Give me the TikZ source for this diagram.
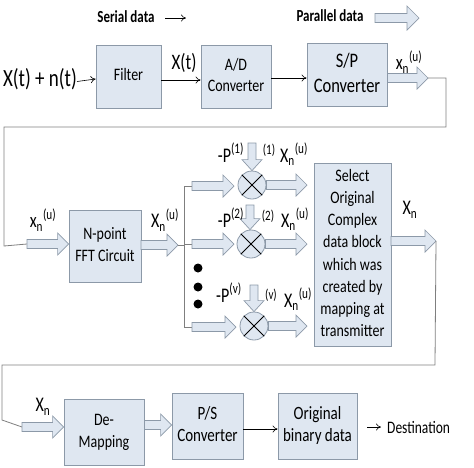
\documentclass[tikz,border=0pt]{standalone}
\usepackage{amsmath}
\usepackage{graphicx}
\usepackage{fontspec}
\setmainfont{Carlito}
\usetikzlibrary{calc,arrows.meta}
\definecolor{bfill}{HTML}{DFE7F1}
\definecolor{bdraw}{HTML}{8C99A8}
\definecolor{wgrey}{HTML}{7F7F7F}
\newcommand\vt[1]{\scalebox{1}[1.25]{\begin{tabular}{@{}c@{}}#1\end{tabular}}}
\newcommand\vl[1]{\scalebox{1}[1.3]{#1}}
\newcommand\Xnu{\vl{X$_{\text{n}}{}^{\text{(u)}}$}}
\newcommand\xnu{\vl{x$_{\text{n}}{}^{\text{(u)}}$}}
\newcommand\harr[3][11]{\draw[harrowsty] let \p1=(#2), \p2=(#3) in
  (\x1,\y1+4.5pt) -- (\x2-#1pt,\y1+4.5pt) -- (\x2-#1pt,\y1+#1pt) -- (\x2,\y1)
  -- (\x2-#1pt,\y1-#1pt) -- (\x2-#1pt,\y1-4.5pt) -- (\x1,\y1-4.5pt) -- cycle;}
\newcommand\varr[2]{\draw[harrowsty] let \p1=(#1), \p2=(#2) in
  (\x1-4pt,\y1) -- (\x1-4pt,\y2+11pt) -- (\x1-10pt,\y2+11pt) -- (\x1,\y2)
  -- (\x1+10pt,\y2+11pt) -- (\x1+4pt,\y2+11pt) -- (\x1+4pt,\y1) -- cycle;}
\tikzset{
  blk/.style={draw=bdraw, fill=bfill, line width=0.8pt, align=center, inner sep=0pt},
  harrowsty/.style={draw=bdraw, fill=bfill, line width=0.7pt, line join=miter},
  wire/.style={draw=wgrey, line width=0.8pt},
  arr/.style={-{To[length=5pt,width=7pt]}, line width=0.6pt},
  lbl/.style={inner sep=0pt, font=\fontsize{16}{18}\selectfont},
  slbl/.style={inner sep=0pt, font=\fontsize{11}{12}\selectfont},
  mult/.style={circle, draw=bdraw, fill=bfill, line width=0.8pt, minimum size=28pt, inner sep=0pt},
  dotb/.style={circle, fill=black, minimum size=9pt, inner sep=0pt},
}
\begin{document}
\begin{tikzpicture}[x=1pt,y=-1pt]
\useasboundingbox (0,0) rectangle (474,467);
% legend
\node[inner sep=0pt, font=\fontsize{13}{14}\selectfont\bfseries] (serial) at (126,17) {\vl{Serial data}};
\coordinate (sa1) at (165,18); \coordinate (sa2) at (186,18);
\draw[arr] (sa1) -- (sa2);
\node[inner sep=0pt, font=\fontsize{13}{14}\selectfont\bfseries] (parallel) at (330,16) {\vl{Parallel data}};
\coordinate (pa1) at (375,18); \coordinate (pa2) at (419,18);
\harr[12]{pa1}{pa2}
% top row
\node[lbl, anchor=east, font=\fontsize{19}{20}\selectfont] (input) at (77,79) {\vl{X(t) + n(t)}};
\node[blk, minimum width=65pt, minimum height=63pt, font=\fontsize{14}{17}\selectfont] (filter) at (128.5,76.5) {\vt{Filter}};
\node[blk, minimum width=70pt, minimum height=63pt, font=\fontsize{14}{17}\selectfont] (ad) at (236,76.5) {\vt{A/D\\Converter}};
\node[blk, minimum width=80pt, minimum height=63pt, font=\fontsize{16.5}{20}\selectfont] (sp) at (347,74.5) {\vt{S/P\\Converter}};
\draw[arr] ([yshift=-2.5pt]input.east) -- ([yshift=-2.5pt]filter.west);
\node[lbl, font=\fontsize{17}{18}\selectfont] (xt) at (184,63) {\vl{X(t)}};
\draw[arr] ([yshift=-3.5pt]filter.east) -- ([yshift=-3.5pt]ad.west);
\draw[arr] ([yshift=-1.5pt]ad.east) -- ([yshift=-3.5pt]sp.west);
\coordinate (sps) at ([yshift=-3.5pt]sp.east);
\coordinate (spt) at (428,78);
\harr{sps}{spt}
\node[lbl] (lsp) at (409,62) {\xnu};
\coordinate (f1) at (446,78); \coordinate (f2) at (446,127);
\coordinate (f3) at (4,127); \coordinate (f4) at (4,246);
\coordinate (fftin) at (27,244);
\draw[wire] (spt) -- (f1) -- (f2) -- (f3) -- (f4) -- (fftin);
% FFT row
\node[blk, minimum width=72pt, minimum height=72pt, font=\fontsize{14}{17.6}\selectfont] (fft) at (105,246) {\vt{N-point\\FFT Circuit}};
\harr{fftin}{fft.west |- fftin}
\node[lbl] (lfftin) at (43,220) {\xnu};
\coordinate (fo1) at (141,245); \coordinate (fo2) at (178,245);
\harr{fo1}{fo2}
\node[lbl] (lfftout) at (165,220) {\Xnu};
\coordinate (bt) at (184,186); \coordinate (bm) at (184,244); \coordinate (bb) at (184,327);
\coordinate (bc) at (184,245);
\draw[wire] (fo2) -- (bc);
\draw[wire] (bt) -- (bb);
\coordinate (a1s) at (192,186); \coordinate (a2s) at (192,244); \coordinate (a3s) at (192,327);
\draw[wire] (bt) -- (a1s); \draw[wire] (bm) -- (a2s); \draw[wire] (bb) -- (a3s);
\node[mult] (m1) at (252,185) {};
\node[mult] (m2) at (251,244) {};
\node[mult] (m3) at (254,326) {};
\foreach \m in {m1,m2,m3}{
  \draw[line width=0.9pt] (\m.north west) -- (\m.south east);
  \draw[line width=0.9pt] (\m.north east) -- (\m.south west);
}
\harr{a1s}{234,186}
\harr{a2s}{234,244}
\harr{a3s}{236,327}
% down arrows
\coordinate (d1) at (252,143); \varr{d1}{m1.north}
\coordinate (d2) at (250,205); \varr{d2}{m2.north}
\coordinate (d3) at (254,285); \varr{d3}{m3.north}
% labels multipliers
\node[lbl, anchor=base] (p1) at (231,162) {\vl{-P$^{\text{(1)}}$}};
\node[slbl] (q1) at (269,150) {\vl{(1)}};
\node[lbl, anchor=base] (x1) at (294,162) {\Xnu};
\node[lbl, anchor=base] (p2) at (231,227) {\vl{-P$^{\text{(2)}}$}};
\node[slbl] (q2) at (268,216) {\vl{(2)}};
\node[lbl, anchor=base] (x2) at (295,227) {\Xnu};
\node[lbl, anchor=base] (p3) at (229,302) {\vl{-P$^{\text{(v)}}$}};
\node[slbl] (q3) at (271,295) {\vl{(v)}};
\node[lbl, anchor=base] (x3) at (298,307) {\Xnu};
% dots
\node[dotb] (dt1) at (198,268) {};
\node[dotb] (dt2) at (198,287) {};
\node[dotb] (dt3) at (198,304) {};
% select box
\node[blk, minimum width=77pt, minimum height=183pt, font=\fontsize{14}{17.8}\selectfont] (sel) at (352.5,254.5)
  {\vt{Select\\Original\\Complex\\data block\\which was\\created by\\mapping at\\transmitter}};
\harr{m1.east}{307,185}
\harr{m2.east}{307,244}
\harr{m3.east}{307,326}
\coordinate (so1) at (391,241); \coordinate (so2) at (436,241);
\harr{so1}{so2}
\node[lbl] (lxn) at (410,210) {\vl{X$_{\text{n}}$}};
\coordinate (g1) at (435,365); \coordinate (g2) at (2,365); \coordinate (g3) at (2,420);
\coordinate (dmin) at (22,427);
\draw[wire] (so2) -- (g1) -- (g2) -- (g3) -- (dmin);
% bottom row
\node[blk, minimum width=80pt, minimum height=66pt, font=\fontsize{14}{17.6}\selectfont] (dm) at (104,432) {\vt{De-\\Mapping}};
\node[blk, minimum width=71pt, minimum height=66pt, font=\fontsize{15}{17.6}\selectfont] (ps) at (207.5,426) {\vt{P/S\\Converter}};
\node[blk, minimum width=79pt, minimum height=66pt, font=\fontsize{15}{17.6}\selectfont] (orig) at (317.5,426) {\vt{Original\\binary data}};
\harr{dmin}{dm.west |- dmin}
\node[lbl] (lxn2) at (43,407) {\vl{X$_{\text{n}}$}};
\coordinate (dmo) at ([yshift=7pt]dm.east);
\harr{dmo}{ps.west |- dmo}
\draw[arr] ([yshift=-3pt]ps.east) -- ([yshift=-3pt]orig.west);
\node[inner sep=0pt, font=\fontsize{13.5}{15}\selectfont, anchor=west] (dest) at (387,427) {\vl{Destination}};
\coordinate (da) at (367,427);
\draw[arr] (da) -- ([xshift=-6pt]dest.west);
\end{tikzpicture}
\end{document}
